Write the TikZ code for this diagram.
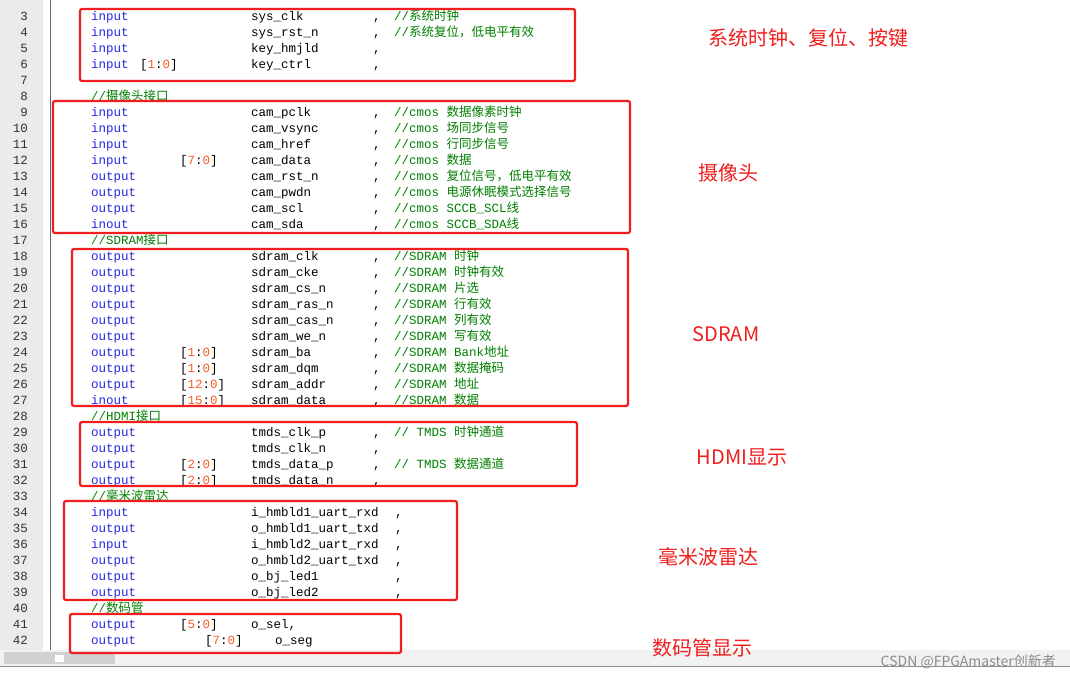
\documentclass[tikz,border=0pt]{standalone}
\usepackage{fontspec}
\setmonofont{Liberation Mono}
\newfontfamily\cj{Noto Sans CJK SC}
\newfontfamily\lab{Noto Sans CJK SC}
\definecolor{kw}{RGB}{40,40,230}
\definecolor{cm}{RGB}{0,128,0}
\definecolor{nm}{RGB}{255,90,40}
\definecolor{bx}{RGB}{240,30,30}
\newcommand{\rg}[2]{[\textcolor{nm}{#1}:\textcolor{nm}{#2}]}
\newcommand{\cc}[1]{{\cj\fontsize{12.5}{13}\selectfont #1}}
\tikzset{t/.style={anchor=base west,inner sep=0pt,font=\ttfamily\fontsize{12.5}{13}\selectfont},
  ln/.style={anchor=base east,inner sep=0pt,font=\ttfamily\fontsize{12.5}{13}\selectfont,text=black!80},
  rbox/.style={draw=bx,line width=2.2pt,rounded corners=2pt},
  lbl/.style={text=bx,font=\lab\fontsize{20}{21}\selectfont,inner sep=0pt}}
\newcommand{\R}[8]{%
  \pgfmathsetmacro{\yy}{-(20+(#1-3)*16)}%
  \node[ln] (n#1) at (28,\yy) {#1};
  \node[t,text=kw] (k#1) at (91,\yy) {#2};
  \node[t] (r#1) at (#3,\yy) {#4};
  \node[t] (m#1) at (#5,\yy) {#6};
  \node[t] (c#1) at (#7,\yy) {,};
  \node[t,text=cm] (d#1) at (394,\yy) {#8};}
\newcommand{\C}[2]{%
  \pgfmathsetmacro{\yy}{-(20+(#1-3)*16)}%
  \node[ln] (n#1) at (28,\yy) {#1};
  \node[t,text=cm] (k#1) at (91,\yy) {#2};}
\begin{document}
\begin{tikzpicture}[x=1pt,y=1pt]
\useasboundingbox (0,0) rectangle (1070,-681);
\fill[white] (0,0) rectangle (1070,-681);
\fill[black!8] (0,0) rectangle (43,-650);
\draw[black!60,line width=0.8pt] (50,0) -- (50,-650);
\node[ln] (n2) at (28,3) {2};
\pgfmathsetmacro{\yy}{-(20+4*16)}\node[ln] (n7) at (28,\yy) {7};
\R{3}{input}{140}{}{251}{sys\_clk}{373}{//\cc{系统时钟}}
\R{4}{input}{140}{}{251}{sys\_rst\_n}{373}{//\cc{系统复位，低电平有效}}
\R{5}{input}{140}{}{251}{key\_hmjld}{373}{}
\R{6}{input}{140}{\rg{1}{0}}{251}{key\_ctrl}{373}{}
\C{8}{//\cc{摄像头接口}}
\R{9}{input}{180}{}{251}{cam\_pclk}{373}{//cmos \cc{数据像素时钟}}
\R{10}{input}{180}{}{251}{cam\_vsync}{373}{//cmos \cc{场同步信号}}
\R{11}{input}{180}{}{251}{cam\_href}{373}{//cmos \cc{行同步信号}}
\R{12}{input}{180}{\rg{7}{0}}{251}{cam\_data}{373}{//cmos \cc{数据}}
\R{13}{output}{180}{}{251}{cam\_rst\_n}{373}{//cmos \cc{复位信号，低电平有效}}
\R{14}{output}{180}{}{251}{cam\_pwdn}{373}{//cmos \cc{电源休眠模式选择信号}}
\R{15}{output}{180}{}{251}{cam\_scl}{373}{//cmos SCCB\_SCL\cc{线}}
\R{16}{inout}{180}{}{251}{cam\_sda}{373}{//cmos SCCB\_SDA\cc{线}}
\C{17}{//SDRAM\cc{接口}}
\R{18}{output}{180}{}{251}{sdram\_clk}{373}{//SDRAM \cc{时钟}}
\R{19}{output}{180}{}{251}{sdram\_cke}{373}{//SDRAM \cc{时钟有效}}
\R{20}{output}{180}{}{251}{sdram\_cs\_n}{373}{//SDRAM \cc{片选}}
\R{21}{output}{180}{}{251}{sdram\_ras\_n}{373}{//SDRAM \cc{行有效}}
\R{22}{output}{180}{}{251}{sdram\_cas\_n}{373}{//SDRAM \cc{列有效}}
\R{23}{output}{180}{}{251}{sdram\_we\_n}{373}{//SDRAM \cc{写有效}}
\R{24}{output}{180}{\rg{1}{0}}{251}{sdram\_ba}{373}{//SDRAM Bank\cc{地址}}
\R{25}{output}{180}{\rg{1}{0}}{251}{sdram\_dqm}{373}{//SDRAM \cc{数据掩码}}
\R{26}{output}{180}{\rg{12}{0}}{251}{sdram\_addr}{373}{//SDRAM \cc{地址}}
\R{27}{inout}{180}{\rg{15}{0}}{251}{sdram\_data}{373}{//SDRAM \cc{数据}}
\C{28}{//HDMI\cc{接口}}
\R{29}{output}{180}{}{251}{tmds\_clk\_p}{373}{// TMDS \cc{时钟通道}}
\R{30}{output}{180}{}{251}{tmds\_clk\_n}{373}{}
\R{31}{output}{180}{\rg{2}{0}}{251}{tmds\_data\_p}{373}{// TMDS \cc{数据通道}}
\R{32}{output}{180}{\rg{2}{0}}{251}{tmds\_data\_n}{373}{}
\C{33}{//\cc{毫米波雷达}}
\R{34}{input}{180}{}{251}{i\_hmbld1\_uart\_rxd}{395}{}
\R{35}{output}{180}{}{251}{o\_hmbld1\_uart\_txd}{395}{}
\R{36}{input}{180}{}{251}{i\_hmbld2\_uart\_rxd}{395}{}
\R{37}{output}{180}{}{251}{o\_hmbld2\_uart\_txd}{395}{}
\R{38}{output}{180}{}{251}{o\_bj\_led1}{395}{}
\R{39}{output}{180}{}{251}{o\_bj\_led2}{395}{}
\C{40}{//\cc{数码管}}
\pgfmathsetmacro{\yy}{-(20+38*16)}
\node[ln] (n41) at (28,\yy) {41};
\node[t,text=kw] (k41) at (91,\yy) {output};
\node[t] (r41) at (180,\yy) {\rg{5}{0}};
\node[t] (m41) at (251,\yy) {o\_sel,};
\pgfmathsetmacro{\yy}{-(20+39*16)}
\node[ln] (n42) at (28,\yy) {42};
\node[t,text=kw] (k42) at (91,\yy) {output};
\node[t] (r42) at (205,\yy) {\rg{7}{0}};
\node[t] (m42) at (275,\yy) {o\_seg};
% scrollbar
\fill[black!5] (0,-650) rectangle (1070,-666);
\fill[black!18] (4,-652) rectangle (115,-664);
\fill[white] (55,-655) rectangle (64,-662);
\draw[black!45] (0,-666) -- (1070,-666);
% boxes
\draw[rbox] (80,-9) rectangle (575,-81);
\draw[rbox] (53,-101) rectangle (630,-233);
\draw[rbox] (72,-249) rectangle (628,-406);
\draw[rbox] (80,-422) rectangle (577,-486);
\draw[rbox] (64,-501) rectangle (457,-600);
\draw[rbox] (70,-614) rectangle (401,-653);
\node[lbl] (l1) at (808,-38) {系统时钟、复位、按键};
\node[lbl] (l2) at (728,-173) {摄像头};
\node[lbl] (l3) at (726,-334) {SDRAM};
\node[lbl] (l4) at (742,-457) {HDMI显示};
\node[lbl] (l5) at (708,-557) {毫米波雷达};
\node[lbl] (l6) at (702,-648) {数码管显示};
\node[anchor=east,inner sep=0pt,text=black!45,font=\lab\fontsize{14}{15}\selectfont] (wm) at (1056,-662) {CSDN @FPGAmaster创新者};
\end{tikzpicture}
\end{document}
